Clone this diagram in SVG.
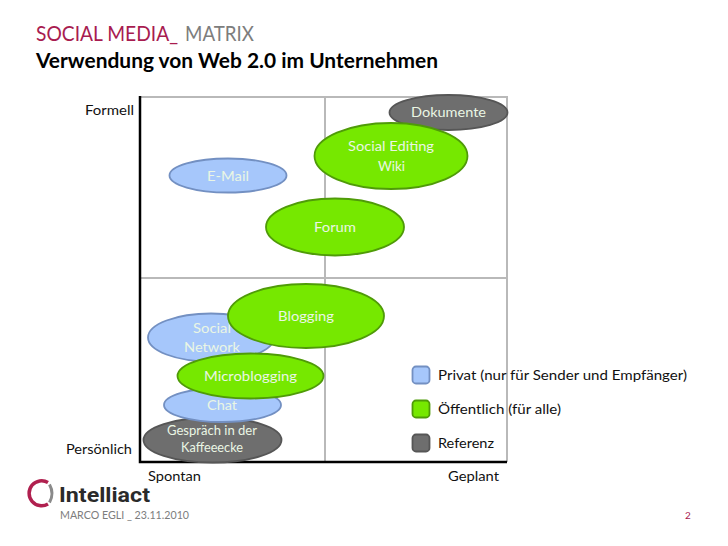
<svg xmlns="http://www.w3.org/2000/svg" width="728" height="546" viewBox="0 0 728 546">
<style>
text{font-family:"Lato","Open Sans","Liberation Sans",sans-serif;font-size:14px;fill:#111}
.n text{fill:#eaf6e4;font-size:14px}
.blue{fill:#a6c7fb;stroke:#7390c2;stroke-width:1.8}
.green{fill:#76e800;stroke:#4f9b08;stroke-width:1.8}
.grey{fill:#6e6e6e;stroke:#565656;stroke-width:1.8}
.g{stroke:#b9b9b9;stroke-width:2;fill:none}
.k{stroke:#000;stroke-width:2.5;fill:none}
</style>
<rect width="728" height="546" fill="#fff"/>
<text x="36" y="41" textLength="142" lengthAdjust="spacingAndGlyphs" style="font-size:20.5px;fill:#a81c50">SOCIAL MEDIA_</text>
<text x="185" y="41" textLength="69" lengthAdjust="spacingAndGlyphs" style="font-size:20.5px;fill:#7d7d7d">MATRIX</text>
<text x="36" y="68" textLength="402" lengthAdjust="spacingAndGlyphs" style="font-size:20.5px;font-weight:700;fill:#000">Verwendung von Web 2.0 im Unternehmen</text>
<g id="connectors">
<path class="g" d="M140 97H507V462M325 97V462M140 278H507"/>
<path class="k" d="M140 96V462H507"/>
</g>
<text x="85" y="115" textLength="49" lengthAdjust="spacingAndGlyphs">Formell</text>
<text x="66" y="454" textLength="66" lengthAdjust="spacingAndGlyphs">Persönlich</text>
<text x="148" y="481" textLength="53" lengthAdjust="spacingAndGlyphs">Spontan</text>
<text x="448" y="481" textLength="51" lengthAdjust="spacingAndGlyphs">Geplant</text>
<g id="dokumente" class="n"><ellipse class="grey" cx="448.5" cy="112.5" rx="59" ry="17.5"/><text x="411" y="117" textLength="75" lengthAdjust="spacingAndGlyphs">Dokumente</text></g>
<g id="social-editing" class="n"><ellipse class="green" cx="391" cy="156" rx="76.5" ry="33"/><text x="348" y="151" textLength="86" lengthAdjust="spacingAndGlyphs">Social Editing</text><text x="378" y="171" textLength="27" lengthAdjust="spacingAndGlyphs">Wiki</text></g>
<g id="email" class="n"><ellipse class="blue" cx="228" cy="175.5" rx="58.5" ry="17"/><text x="207" y="181" textLength="42" lengthAdjust="spacingAndGlyphs">E-Mail</text></g>
<g id="forum" class="n"><ellipse class="green" cx="335" cy="227" rx="69" ry="28.5"/><text x="314" y="232" textLength="42" lengthAdjust="spacingAndGlyphs">Forum</text></g>
<g id="social-network" class="n"><ellipse class="blue" cx="211" cy="337.5" rx="63" ry="24"/><text x="193" y="333" textLength="38" lengthAdjust="spacingAndGlyphs">Social</text><text x="184" y="352" textLength="56" lengthAdjust="spacingAndGlyphs">Network</text></g>
<g id="blogging" class="n"><ellipse class="green" cx="306" cy="316" rx="78" ry="32"/><text x="278" y="321" textLength="56" lengthAdjust="spacingAndGlyphs">Blogging</text></g>
<g id="gespraech" class="n"><ellipse class="grey" cx="212.5" cy="440" rx="69" ry="22.5"/><text x="167" y="435" textLength="90" lengthAdjust="spacingAndGlyphs" style="font-size:12.5px">Gespräch in der</text><text x="181" y="452" textLength="62" lengthAdjust="spacingAndGlyphs" style="font-size:12.5px">Kaffeeecke</text></g>
<g id="chat" class="n"><ellipse class="blue" cx="222.5" cy="405" rx="58.5" ry="17"/><text x="207" y="410" textLength="30" lengthAdjust="spacingAndGlyphs">Chat</text></g>
<g id="microblogging" class="n"><ellipse class="green" cx="250.5" cy="376" rx="73" ry="22.5"/><text x="204" y="381" textLength="93" lengthAdjust="spacingAndGlyphs">Microblogging</text></g>
<g id="legend-privat"><rect class="blue" x="412.5" y="366.5" width="17" height="17" rx="3.5"/><text x="438" y="380" textLength="249" lengthAdjust="spacingAndGlyphs">Privat (nur für Sender und Empfänger)</text></g>
<g id="legend-oeffentlich"><rect class="green" x="412.5" y="400.5" width="17" height="17" rx="3.5"/><text x="438" y="414" textLength="123" lengthAdjust="spacingAndGlyphs">Öffentlich (für alle)</text></g>
<g id="legend-referenz"><rect class="grey" x="412.5" y="434.5" width="17" height="17" rx="3.5"/><text x="438" y="448" textLength="56" lengthAdjust="spacingAndGlyphs">Referenz</text></g>
<g id="logo">
<path d="M48 482.5A12.5 12.5 0 1 0 48 504" fill="none" stroke="#b0204f" stroke-width="3.5"/>
<path d="M49.5 484.5Q54.5 493.5 49.5 502.5" fill="none" stroke="#8a8a8a" stroke-width="3"/>
<text x="59" y="502" textLength="91" lengthAdjust="spacingAndGlyphs" style="font-family:Roboto,sans-serif;font-size:21px;font-weight:700;fill:#2a2a2a">Intelliact</text>
</g>
<text x="60" y="519" textLength="129" lengthAdjust="spacingAndGlyphs" style="font-size:11px;fill:#7d7d7d">MARCO EGLI _ 23.11.2010</text>
<text x="685" y="519" style="font-size:10px;fill:#a81c50">2</text>
</svg>
